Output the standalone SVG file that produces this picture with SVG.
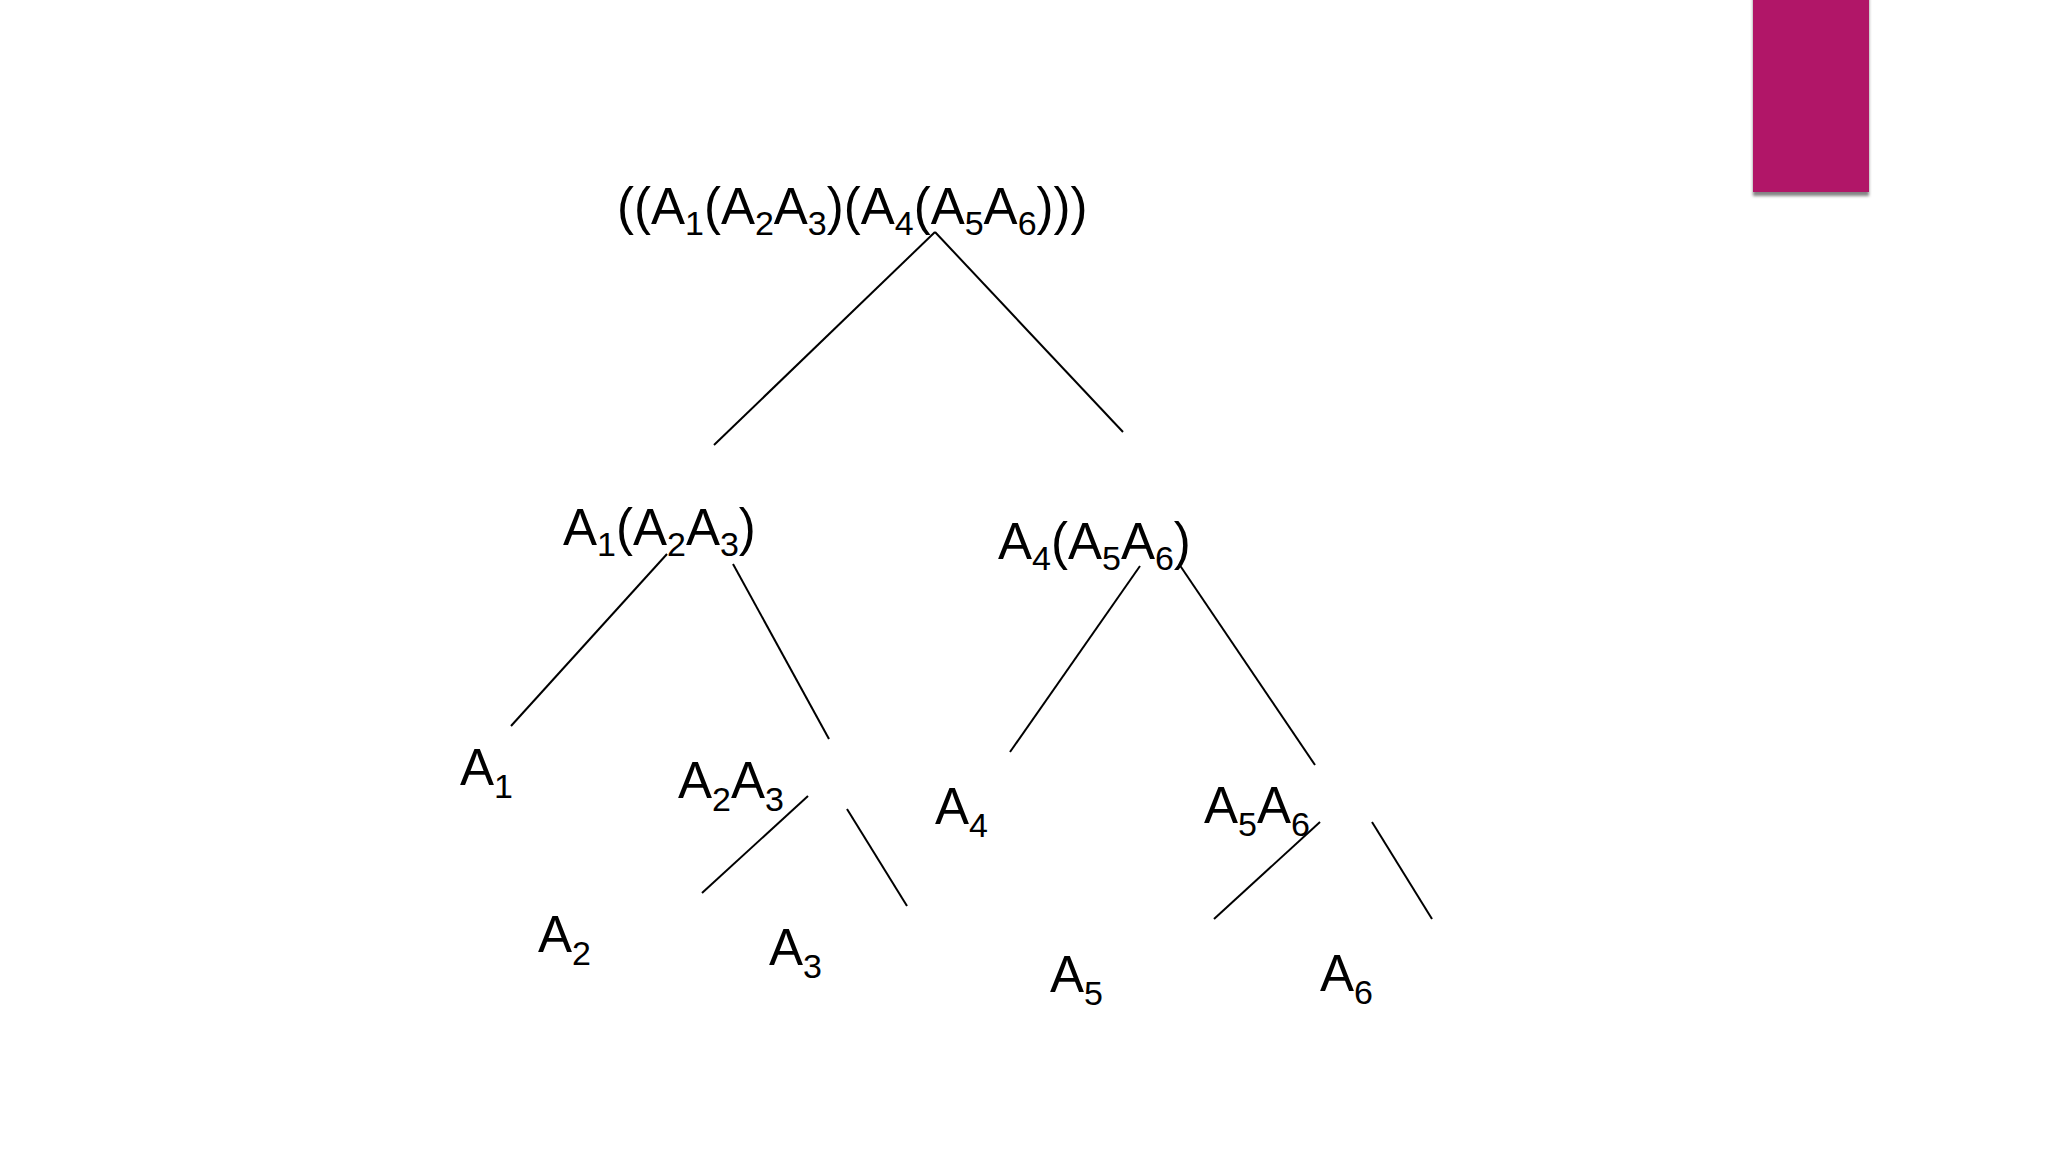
<svg xmlns="http://www.w3.org/2000/svg" width="2048" height="1152" viewBox="0 0 2048 1152">
  <defs>
    <style>
      .lbl { font-family: "Liberation Sans", Arial, sans-serif; font-size: 51px; fill: #000; }
      .sub { font-size: 34px; }
      .edge { stroke: #000; stroke-width: 2; fill: none; stroke-linecap: butt; }
    </style>
    <filter id="shadow" x="-10%" y="-10%" width="120%" height="120%">
      <feDropShadow dx="0" dy="4" stdDeviation="1.5" flood-color="#777" flood-opacity="0.9"/>
    </filter>
  </defs>
  <rect width="2048" height="1152" fill="#fff"/>

  <g id="accent-bar">
    <rect x="1753" y="-10" width="116" height="202" fill="#B11467" filter="url(#shadow)"/>
  </g>

  <g id="connectors">
    <line class="edge" x1="935" y1="232" x2="714" y2="445"/>
    <line class="edge" x1="935" y1="232" x2="1123" y2="432"/>
    <line class="edge" x1="667" y1="554" x2="511" y2="726"/>
    <line class="edge" x1="733" y1="564" x2="829" y2="739"/>
    <line class="edge" x1="1140" y1="566" x2="1010" y2="752"/>
    <line class="edge" x1="1179" y1="564" x2="1315" y2="765"/>
    <line class="edge" x1="808" y1="796" x2="702" y2="893"/>
    <line class="edge" x1="847" y1="809" x2="907" y2="906"/>
    <line class="edge" x1="1320" y1="822" x2="1214" y2="919"/>
    <line class="edge" x1="1372" y1="822" x2="1432" y2="919"/>
  </g>

  <g id="node-root">
    <text class="lbl" x="617" y="224">((A<tspan class="sub" dy="11">1</tspan><tspan dy="-11">(A</tspan><tspan class="sub" dy="11">2</tspan><tspan dy="-11">A</tspan><tspan class="sub" dy="11">3</tspan><tspan dy="-11">)(A</tspan><tspan class="sub" dy="11">4</tspan><tspan dy="-11">(A</tspan><tspan class="sub" dy="11">5</tspan><tspan dy="-11">A</tspan><tspan class="sub" dy="11">6</tspan><tspan dy="-11">)))</tspan></text>
  </g>

  <g id="node-a1a2a3">
    <text class="lbl" x="563" y="545">A<tspan class="sub" dy="11">1</tspan><tspan dy="-11">(A</tspan><tspan class="sub" dy="11">2</tspan><tspan dy="-11">A</tspan><tspan class="sub" dy="11">3</tspan><tspan dy="-11">)</tspan></text>
  </g>

  <g id="node-a4a5a6">
    <text class="lbl" x="998" y="559">A<tspan class="sub" dy="11">4</tspan><tspan dy="-11">(A</tspan><tspan class="sub" dy="11">5</tspan><tspan dy="-11">A</tspan><tspan class="sub" dy="11">6</tspan><tspan dy="-11">)</tspan></text>
  </g>

  <g id="node-a1">
    <text class="lbl" x="460" y="785">A<tspan class="sub" dy="13">1</tspan></text>
  </g>

  <g id="node-a2a3">
    <text class="lbl" x="678" y="798">A<tspan class="sub" dy="13">2</tspan><tspan dy="-13">A</tspan><tspan class="sub" dy="13">3</tspan></text>
  </g>

  <g id="node-a4">
    <text class="lbl" x="935" y="824">A<tspan class="sub" dy="13">4</tspan></text>
  </g>

  <g id="node-a5a6">
    <text class="lbl" x="1204" y="823">A<tspan class="sub" dy="13">5</tspan><tspan dy="-13">A</tspan><tspan class="sub" dy="13">6</tspan></text>
  </g>

  <g id="node-a2">
    <text class="lbl" x="538" y="952">A<tspan class="sub" dy="13">2</tspan></text>
  </g>

  <g id="node-a3">
    <text class="lbl" x="769" y="965">A<tspan class="sub" dy="13">3</tspan></text>
  </g>

  <g id="node-a5">
    <text class="lbl" x="1050" y="992">A<tspan class="sub" dy="13">5</tspan></text>
  </g>

  <g id="node-a6">
    <text class="lbl" x="1320" y="991">A<tspan class="sub" dy="13">6</tspan></text>
  </g>
</svg>
